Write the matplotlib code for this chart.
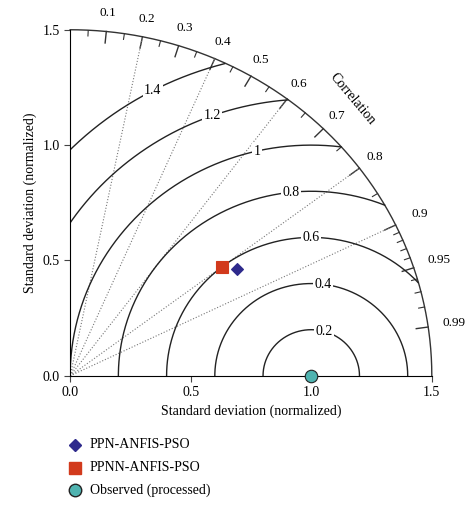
import numpy as np
import matplotlib.pyplot as plt

plt.rcParams['font.family'] = ['Liberation Serif', 'DejaVu Serif']

names = ['PPN-ANFIS-PSO', 'PPNN-ANFIS-PSO', 'Observed (processed)']
std_x = [0.69, 0.63, 1.0]
std_y = [0.465, 0.47, 0.0]
markers = ['D', 's', 'o']
colors = ['#2e2a8c', '#d23a1c', '#4fb3b0']
sizes = [6, 8, 9]

rms_levels = [0.2, 0.4, 0.6, 0.8, 1.0, 1.2, 1.4]
rms_labels = ['0.2', '0.4', '0.6', '0.8', '1', '1.2', '1.4']
rms_label_ang = [75, 83, 90, 96, 103, 110, 118]
corr_major = [0.1, 0.2, 0.3, 0.4, 0.5, 0.6, 0.7, 0.8, 0.9, 0.95, 0.99]
corr_minor = list(np.arange(0.05, 0.9, 0.1)) + [0.91, 0.92, 0.93, 0.94, 0.96, 0.97, 0.98]
corr_lines = [0.2, 0.4, 0.6, 0.8, 0.9]
rmax = 1.5

fig = plt.figure(figsize=(4.74, 5.22), dpi=100)
ax = fig.add_axes([0.148, 0.280, 0.763, 0.663])
ax.set_xlim(0, rmax)
ax.set_ylim(0, rmax)
for s in ['top', 'right']:
    ax.spines[s].set_visible(False)
ax.set_xticks([0, 0.5, 1.0, 1.5])
ax.set_yticks([0, 0.5, 1.0, 1.5])
ax.set_xticklabels(['0.0', '0.5', '1.0', '1.5'])
ax.set_yticklabels(['0.0', '0.5', '1.0', '1.5'])
ax.tick_params(labelsize=10, length=4, color='#444444')
ax.set_xlabel('Standard deviation (normalized)', fontsize=10)
ax.set_ylabel('Standard deviation (normalized)', fontsize=10)

# outer arc
th = np.linspace(0, np.pi / 2, 300)
ax.plot(rmax * np.cos(th), rmax * np.sin(th), color='#333333', lw=1, clip_on=False)

# correlation ticks
for c in corr_major:
    a = np.arccos(c)
    ax.plot([rmax * np.cos(a), (rmax - 0.05) * np.cos(a)],
            [rmax * np.sin(a), (rmax - 0.05) * np.sin(a)], color='#333333', lw=1)
    rl = 1.58 if c < 0.9 else 1.61
    ax.text(rl * np.cos(a), rl * np.sin(a), str(c), fontsize=9.5, ha='center', va='center')
for c in corr_minor:
    a = np.arccos(c)
    ax.plot([rmax * np.cos(a), (rmax - 0.025) * np.cos(a)],
            [rmax * np.sin(a), (rmax - 0.025) * np.sin(a)], color='#333333', lw=0.8)
for c in corr_lines:
    a = np.arccos(c)
    ax.plot([0, rmax * np.cos(a)], [0, rmax * np.sin(a)], color='#777777', lw=0.8, ls=':')
ax.text(1.17, 1.2, 'Correlation', rotation=-50, fontsize=10, ha='center', va='center')

# RMS contours
t = np.linspace(0, np.pi, 600)
for r, lab, ang in zip(rms_levels, rms_labels, rms_label_ang):
    x = 1 + r * np.cos(t)
    y = r * np.sin(t)
    m = np.hypot(x, y) <= rmax
    x = np.where(m, x, np.nan)
    ax.plot(x, y, color='#222222', lw=1)
    a = np.radians(ang)
    ax.text(1 + r * np.cos(a), r * np.sin(a), lab, fontsize=10, ha='center', va='center',
            bbox=dict(fc='white', ec='none', pad=1))

# points
for xs, ys, mk, col, sz in zip(std_x, std_y, markers, colors, sizes):
    ax.plot(xs, ys, marker=mk, color=col, ms=sz, mec='#222222' if mk == 'o' else col,
            mew=0.8, clip_on=False, zorder=5)

# legend
for i, (n, mk, col, sz) in enumerate(zip(names, markers, colors, sizes)):
    yy = 1 - (445 + 22.5 * i) / 522
    fig.add_artist(plt.Line2D([75 / 474], [yy], marker=mk, color=col, ms=sz,
                              mec='#222222' if mk == 'o' else col, transform=fig.transFigure))
    fig.text(90 / 474, yy, n, fontsize=10, va='center')

fig.savefig('out.png', dpi=100)
